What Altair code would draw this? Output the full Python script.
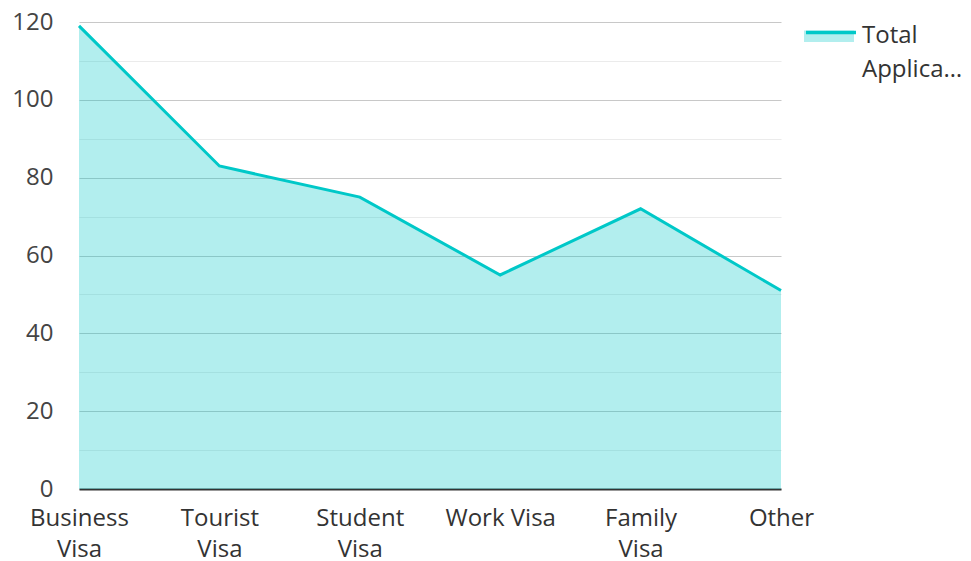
import altair as alt
import pandas as pd

categories = ["Business Visa", "Tourist Visa", "Student Visa", "Work Visa", "Family Visa", "Other"]
applications = [119, 83, 75, 55, 72, 51]
series_name = "Total Applications"
y_ticks = list(range(0, 121, 10))

df = pd.DataFrame({
    "category": categories,
    "value": applications,
    "series": [series_name] * len(categories),
})

FONT = "Open Sans"
LINE = "#00C8C8"
FS = 24

x = alt.X(
    "category:N",
    sort=categories,
    scale=alt.Scale(type="point", padding=0),
    axis=alt.Axis(
        title=None, labelAngle=0, labelFont=FONT, labelFontSize=FS, labelColor="#333333",
        labelLineHeight=31, labelPadding=17.5, ticks=False, tickSize=0,
        domainColor="#333333", domainWidth=2, grid=False,
        labelExpr="length(datum.label) > 9 ? split(datum.label, ' ') : datum.label",
    ),
)
y = alt.Y(
    "value:Q",
    scale=alt.Scale(domain=[0, 120], nice=False),
    axis=alt.Axis(
        title=None, values=y_ticks,
        labelExpr="datum.value % 20 === 0 ? datum.label : ''",
        labelFont=FONT, labelFontSize=FS, labelColor="#444444", labelPadding=26,
        ticks=False, tickSize=0, domain=False,
        gridColor={"condition": {"test": "datum.value % 20 === 0", "value": "#C8C8C8"}, "value": "#EBEBEB"},
        gridWidth=1,
    ),
)

legend_common = dict(
    title=None, orient="none", legendX=725, legendY=-11, symbolSize=2500,
    labelFont=FONT, labelFontSize=FS, labelColor="#333333", labelOffset=8,
    padding=0,
)

area = alt.Chart(df).mark_area(fillOpacity=0.3, interpolate="linear").encode(
    x=x, y=y,
    fill=alt.Fill(
        "series:N",
        scale=alt.Scale(domain=[series_name], range=[LINE]),
        legend=alt.Legend(
            symbolType="M-1,-0.22H1V0.24H-1Z", symbolOpacity=0.3, symbolStrokeWidth=0,
            labelExpr="[split(datum.label, ' ')[0], slice(split(datum.label, ' ')[1], 0, 7) + '…']",
            **legend_common,
        ),
    ),
)
line = alt.Chart(df).mark_line(strokeWidth=3, interpolate="linear").encode(
    x=x, y=y,
    stroke=alt.Stroke(
        "series:N",
        scale=alt.Scale(domain=[series_name], range=[LINE]),
        legend=alt.Legend(
            symbolType="M-1,-0.22H1", symbolStrokeWidth=3.5, symbolFillColor="transparent",
            labelExpr="[' ', ' ']", labelOpacity=0,
            **legend_common,
        ),
    ),
)

chart = alt.layer(area, line).resolve_scale(fill="independent", stroke="independent").properties(
    width=702, height=467,
    autosize=alt.AutoSizeParams(type="none"),
    padding={"left": 71, "top": 14, "right": 182, "bottom": 77},
    background="white",
).configure(
    view=alt.ViewConfig(stroke=None),
    style={"guide-label": {"lineHeight": 33.5}},
)

chart.save("out.html", embed_options={"renderer": "svg", "actions": False})
